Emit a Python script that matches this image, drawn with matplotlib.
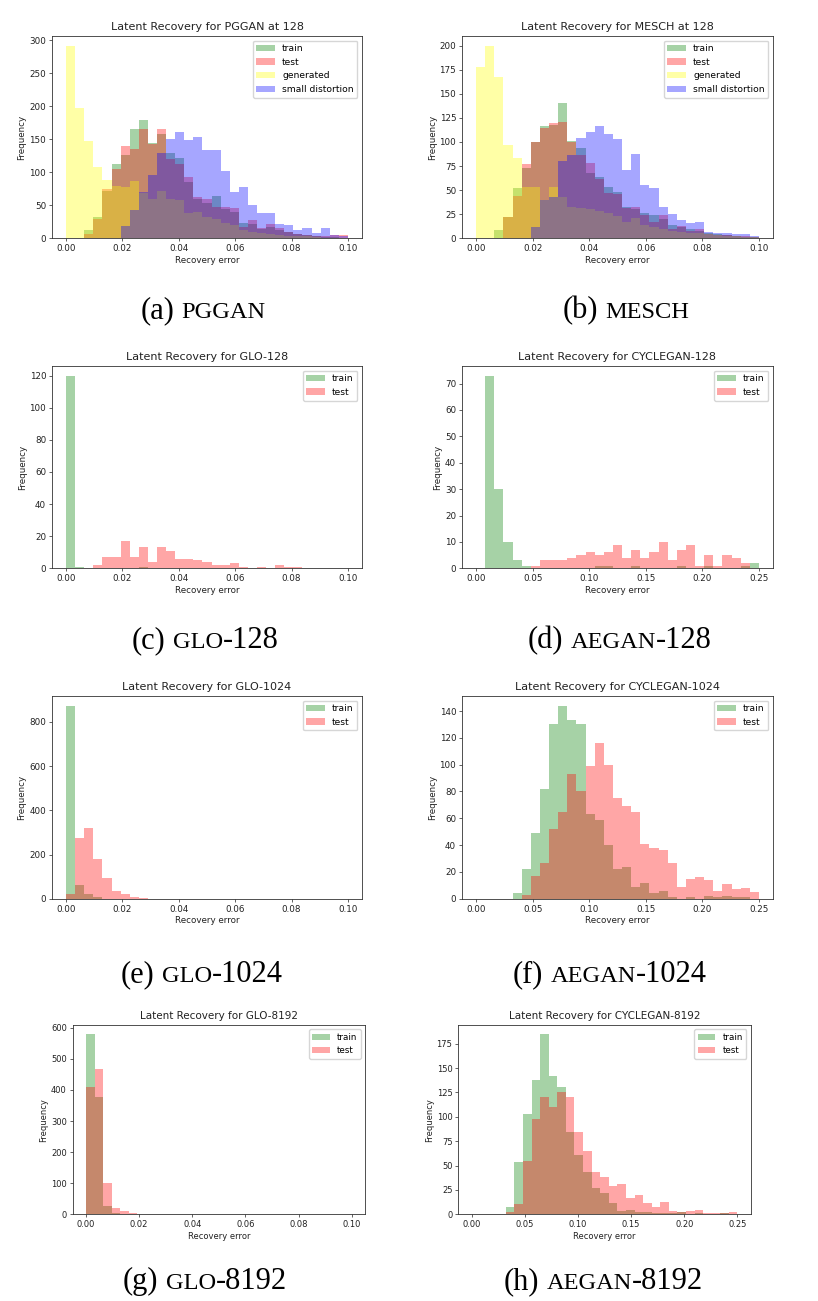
import matplotlib
matplotlib.use("Agg")
import matplotlib.pyplot as plt
import numpy as np
from matplotlib.ticker import MultipleLocator
from matplotlib.transforms import IdentityTransform

# ── Dados (contagens por bin, 31 bins em [0, xmax]) ─────────────────────────────
N_BINS = 31

# (a) PGGAN at 128
pggan_train = [0, 1, 12, 32, 72, 112, 126, 166, 179, 144, 158, 129, 121, 86, 60, 54,
               64, 45, 40, 23, 21, 14, 17, 13, 10, 6, 5, 4, 2, 2, 1]
pggan_test = [0, 1, 6, 30, 74, 105, 140, 136, 165, 143, 166, 120, 112, 93, 62, 60,
              48, 48, 46, 17, 27, 15, 21, 16, 9, 7, 5, 4, 3, 5, 5]
pggan_gen = [292, 198, 147, 108, 89, 80, 78, 87, 69, 59, 71, 60, 58, 38, 40, 33,
             30, 23, 20, 12, 10, 8, 7, 5, 4, 3, 3, 2, 1, 1, 0]
pggan_dist = [0, 0, 0, 0, 0, 0, 18, 43, 70, 96, 129, 150, 161, 149, 154, 134,
              134, 102, 70, 78, 50, 39, 39, 22, 20, 13, 15, 8, 15, 5, 3]

# (b) MESCH at 128
mesch_train = [0, 0, 9, 22, 52, 73, 100, 117, 118, 140, 101, 94, 68, 64, 53, 48,
               33, 30, 26, 24, 20, 14, 12, 10, 8, 5, 4, 3, 2, 1, 1]
mesch_test = [0, 0, 0, 22, 44, 77, 100, 114, 120, 121, 100, 86, 78, 62, 47, 46,
              31, 33, 24, 17, 24, 10, 13, 8, 10, 4, 3, 3, 2, 2, 1]
mesch_gen = [178, 200, 167, 97, 83, 53, 53, 40, 53, 43, 33, 31, 30, 28, 26, 23,
             17, 21, 14, 12, 10, 8, 7, 6, 5, 4, 3, 2, 2, 1, 1]
mesch_dist = [0, 0, 0, 0, 0, 0, 12, 40, 43, 80, 86, 104, 110, 117, 108, 103,
              71, 88, 55, 52, 33, 25, 19, 16, 17, 7, 6, 5, 4, 4, 2]

# (c) GLO-128
glo128_train = [120, 1, 0, 0, 0, 0, 0, 0, 1, 0, 0, 0, 0, 0, 0, 0,
                0, 0, 0, 0, 0, 0, 0, 0, 0, 0, 0, 0, 0, 0, 0]
glo128_test = [0, 0, 0, 2, 7, 7, 17, 7, 13, 4, 13, 11, 6, 6, 5, 4,
               2, 2, 3, 1, 0, 1, 0, 2, 1, 1, 0, 0, 0, 0, 0]

# (d) CYCLEGAN-128
cyc128_train = [0, 73, 30, 10, 3, 1, 0, 0, 0, 0, 0, 0, 0, 1, 1, 0,
                0, 1, 0, 0, 0, 0, 1, 0, 0, 1, 0, 0, 0, 1, 2]
cyc128_test = [0, 0, 0, 0, 0, 0, 1, 3, 3, 3, 4, 5, 6, 5, 6, 9,
               4, 7, 4, 6, 10, 3, 7, 9, 1, 5, 1, 5, 4, 2, 0]

# (e) GLO-1024
glo1024_train = [874, 62, 20, 8, 0, 0, 0, 0, 0, 0, 0, 0, 0, 0, 0, 0,
                 0, 0, 0, 0, 0, 0, 0, 0, 0, 0, 0, 0, 0, 0, 0]
glo1024_test = [22, 277, 319, 178, 95, 35, 21, 9, 3, 0, 0, 0, 0, 0, 0, 0,
                0, 0, 0, 0, 0, 0, 0, 0, 0, 0, 0, 0, 0, 0, 0]

# (f) CYCLEGAN-1024
cyc1024_train = [0, 0, 0, 0, 4, 22, 49, 82, 130, 144, 133, 130, 63, 59, 40, 22,
                 24, 9, 12, 4, 6, 1, 0, 1, 0, 2, 1, 2, 1, 1, 0]
cyc1024_test = [0, 0, 0, 0, 0, 3, 17, 27, 52, 65, 93, 80, 99, 116, 100, 75,
                69, 65, 41, 38, 36, 27, 9, 15, 16, 14, 6, 11, 7, 8, 5]

# (g) GLO-8192
glo8192_train = [580, 378, 27, 5, 2, 1, 0, 0, 0, 0, 0, 0, 0, 0, 0, 0,
                 0, 0, 0, 0, 0, 0, 0, 0, 0, 0, 0, 0, 0, 0, 0]
glo8192_test = [408, 468, 102, 19, 12, 3, 1, 0, 0, 0, 0, 0, 0, 0, 0, 0,
                0, 0, 0, 0, 0, 0, 0, 0, 0, 0, 0, 0, 0, 0, 0]

# (h) CYCLEGAN-8192
cyc8192_train = [0, 0, 0, 0, 7, 54, 103, 138, 185, 142, 131, 84, 61, 43, 27, 22,
                 12, 3, 4, 2, 2, 1, 1, 1, 2, 0, 1, 0, 0, 1, 0]
cyc8192_test = [0, 0, 0, 0, 2, 11, 55, 98, 120, 110, 126, 120, 84, 65, 43, 38,
                29, 31, 17, 20, 12, 8, 13, 3, 2, 3, 4, 1, 1, 1, 2]

# ── Estilo ─────────────────────────────────────────────────────────────────────
ALPHA = 0.35
CORES = {"train": "green", "test": "red", "generated": "yellow",
         "small distortion": "blue"}
CAP_FS = 22          # tamanho da legenda das subfiguras (pt)
LARG, ALT = 818, 1301


def painel(fig, rect_px, titulo, xmax, series, xstep, ystep, fs, fs_tit, fs_leg):
    x0, x1, y0, y1 = rect_px
    ax = fig.add_axes([x0 / LARG, 1 - y1 / ALT, (x1 - x0) / LARG, (y1 - y0) / ALT])
    edges = np.linspace(0, xmax, N_BINS + 1)
    centros = (edges[:-1] + edges[1:]) / 2
    for rotulo, contagens in series:
        ax.hist(centros, bins=edges, weights=contagens, color=CORES[rotulo],
                alpha=ALPHA, label=rotulo)
    ax.set_title(titulo, fontsize=fs_tit, pad=4, color="#222222")
    ax.set_xlabel("Recovery error", fontsize=fs, labelpad=2, color="#222222")
    ax.set_ylabel("Frequency", fontsize=fs, labelpad=2, color="#222222")
    ax.xaxis.set_major_locator(MultipleLocator(xstep))
    ax.yaxis.set_major_locator(MultipleLocator(ystep))
    ax.tick_params(labelsize=fs, length=2.2, width=0.5, pad=2, colors="#222222")
    for s in ax.spines.values():
        s.set_linewidth(0.6)
        s.set_color("#333333")
    ax.legend(loc="upper right", fontsize=fs_leg, borderpad=0.4, labelspacing=0.5,
              handlelength=2.0, handletextpad=0.8, borderaxespad=0.5)
    return ax


def legenda_sub(fig, xc, base, partes):
    """Desenha '(x) NOME' com versaletes, centrado em xc (px), baseline em base (px do topo)."""
    r = fig.canvas.get_renderer()
    textos, larguras = [], []
    for s, k in partes:
        if s == " ":
            textos.append(None)
            larguras.append(0.25 * CAP_FS * fig.dpi / 72)
            continue
        t = fig.text(0, ALT - base, s, fontsize=CAP_FS * k, family="Liberation Serif",
                     ha="left", va="baseline", transform=IdentityTransform())
        textos.append(t)
        larguras.append(t.get_window_extent(renderer=r).width)
    x = xc - sum(larguras) / 2
    for t, w in zip(textos, larguras):
        if t is not None:
            t.set_x(x)
        x += w


fig = plt.figure(figsize=(LARG / 100, ALT / 100), dpi=100)

FS, FS_T, FS_L = 6.3, 8.0, 6.6
FS2, FS2_T, FS2_L = 6.0, 7.5, 6.3

painel(fig, (52, 362, 36, 238.3), "Latent Recovery for PGGAN at 128", 0.1,
       [("train", pggan_train), ("test", pggan_test), ("generated", pggan_gen),
        ("small distortion", pggan_dist)], 0.02, 50, FS, FS_T, FS_L)
painel(fig, (462, 773, 36, 238.3), "Latent Recovery for MESCH at 128", 0.1,
       [("train", mesch_train), ("test", mesch_test), ("generated", mesch_gen),
        ("small distortion", mesch_dist)], 0.02, 25, FS, FS_T, FS_L)
painel(fig, (52, 362, 366, 568.3), "Latent Recovery for GLO-128", 0.1,
       [("train", glo128_train), ("test", glo128_test)], 0.02, 20, FS, FS_T, FS_L)
painel(fig, (462, 773, 366, 568.3), "Latent Recovery for CYCLEGAN-128", 0.25,
       [("train", cyc128_train), ("test", cyc128_test)], 0.05, 10, FS, FS_T, FS_L)
painel(fig, (52, 362, 696, 898.7), "Latent Recovery for GLO-1024", 0.1,
       [("train", glo1024_train), ("test", glo1024_test)], 0.02, 200, FS, FS_T, FS_L)
painel(fig, (462, 773, 696, 898.7), "Latent Recovery for CYCLEGAN-1024", 0.25,
       [("train", cyc1024_train), ("test", cyc1024_test)], 0.05, 20, FS, FS_T, FS_L)
painel(fig, (72.7, 365, 1025, 1214.3), "Latent Recovery for GLO-8192", 0.1,
       [("train", glo8192_train), ("test", glo8192_test)], 0.02, 100, FS2, FS2_T, FS2_L)
painel(fig, (458.3, 750.7, 1025, 1214.3), "Latent Recovery for CYCLEGAN-8192", 0.25,
       [("train", cyc8192_train), ("test", cyc8192_test)], 0.05, 25, FS2, FS2_T, FS2_L)

SC = 0.8  # escala dos versaletes
legenda_sub(fig, 203, 318, [("(a)", 1), (" ", 0), ("PGGAN", SC)])
legenda_sub(fig, 626, 318, [("(b)", 1), (" ", 0), ("MESCH", SC)])
legenda_sub(fig, 205, 648, [("(c)", 1), (" ", 0), ("GLO", SC), ("-128", 1)])
legenda_sub(fig, 620, 648, [("(d)", 1), (" ", 0), ("AEGAN", SC), ("-128", 1)])
legenda_sub(fig, 202, 982, [("(e)", 1), (" ", 0), ("GLO", SC), ("-1024", 1)])
legenda_sub(fig, 610, 982, [("(f)", 1), (" ", 0), ("AEGAN", SC), ("-1024", 1)])
legenda_sub(fig, 205, 1289, [("(g)", 1), (" ", 0), ("GLO", SC), ("-8192", 1)])
legenda_sub(fig, 603, 1289, [("(h)", 1), (" ", 0), ("AEGAN", SC), ("-8192", 1)])

plt.savefig("out.png", dpi=100)
plt.close()
